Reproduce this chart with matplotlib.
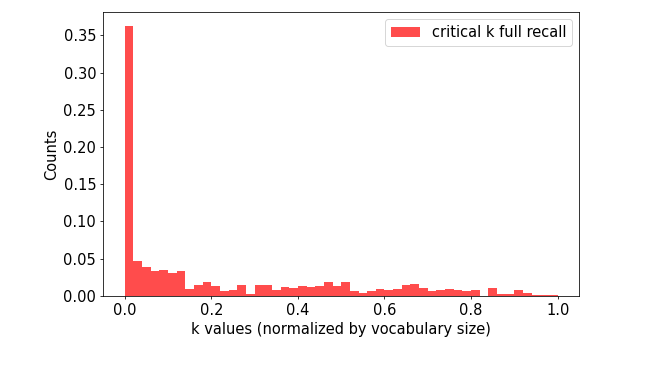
import numpy as np
import matplotlib
matplotlib.use("Agg")
import matplotlib.pyplot as plt

# histogram of critical k, 50 bins over [0, 1]
bin_edges = np.linspace(0.0, 1.0, 51)
bin_values = [0.363, 0.047, 0.0385, 0.0336, 0.0354, 0.0305, 0.0336, 0.0098, 0.0148, 0.0188,
              0.013, 0.0062, 0.008, 0.0148, 0.003, 0.0148, 0.0148, 0.0085, 0.0116, 0.0103,
              0.0134, 0.0116, 0.0134, 0.0188, 0.013, 0.0189, 0.0067, 0.0045, 0.0063, 0.0094,
              0.0081, 0.0094, 0.0144, 0.016, 0.0108, 0.0067, 0.0076, 0.009, 0.0076, 0.0063,
              0.0076, 0.0, 0.0108, 0.0022, 0.0022, 0.0076, 0.004, 0.001, 0.001, 0.001]
label = "critical k full recall"

centers = (bin_edges[:-1] + bin_edges[1:]) / 2

# drawn at a lower dpi so ticks/pads shrink along with the 15pt text
dpi = 70
fs = 15
fig = plt.figure(figsize=(669 / dpi, 368 / dpi), dpi=dpi)
ax = fig.add_axes([0.154, 0.196, 0.712, 0.771])
ax.hist(centers, bins=bin_edges, weights=bin_values, color='red', alpha=0.7, label=label)
ax.set_xlabel('k values (normalized by vocabulary size)', fontsize=fs)
ax.set_ylabel('Counts', fontsize=fs)
ax.tick_params(labelsize=fs)
ax.legend(loc='upper right', fontsize=fs)
fig.savefig('out.png', dpi=dpi)
